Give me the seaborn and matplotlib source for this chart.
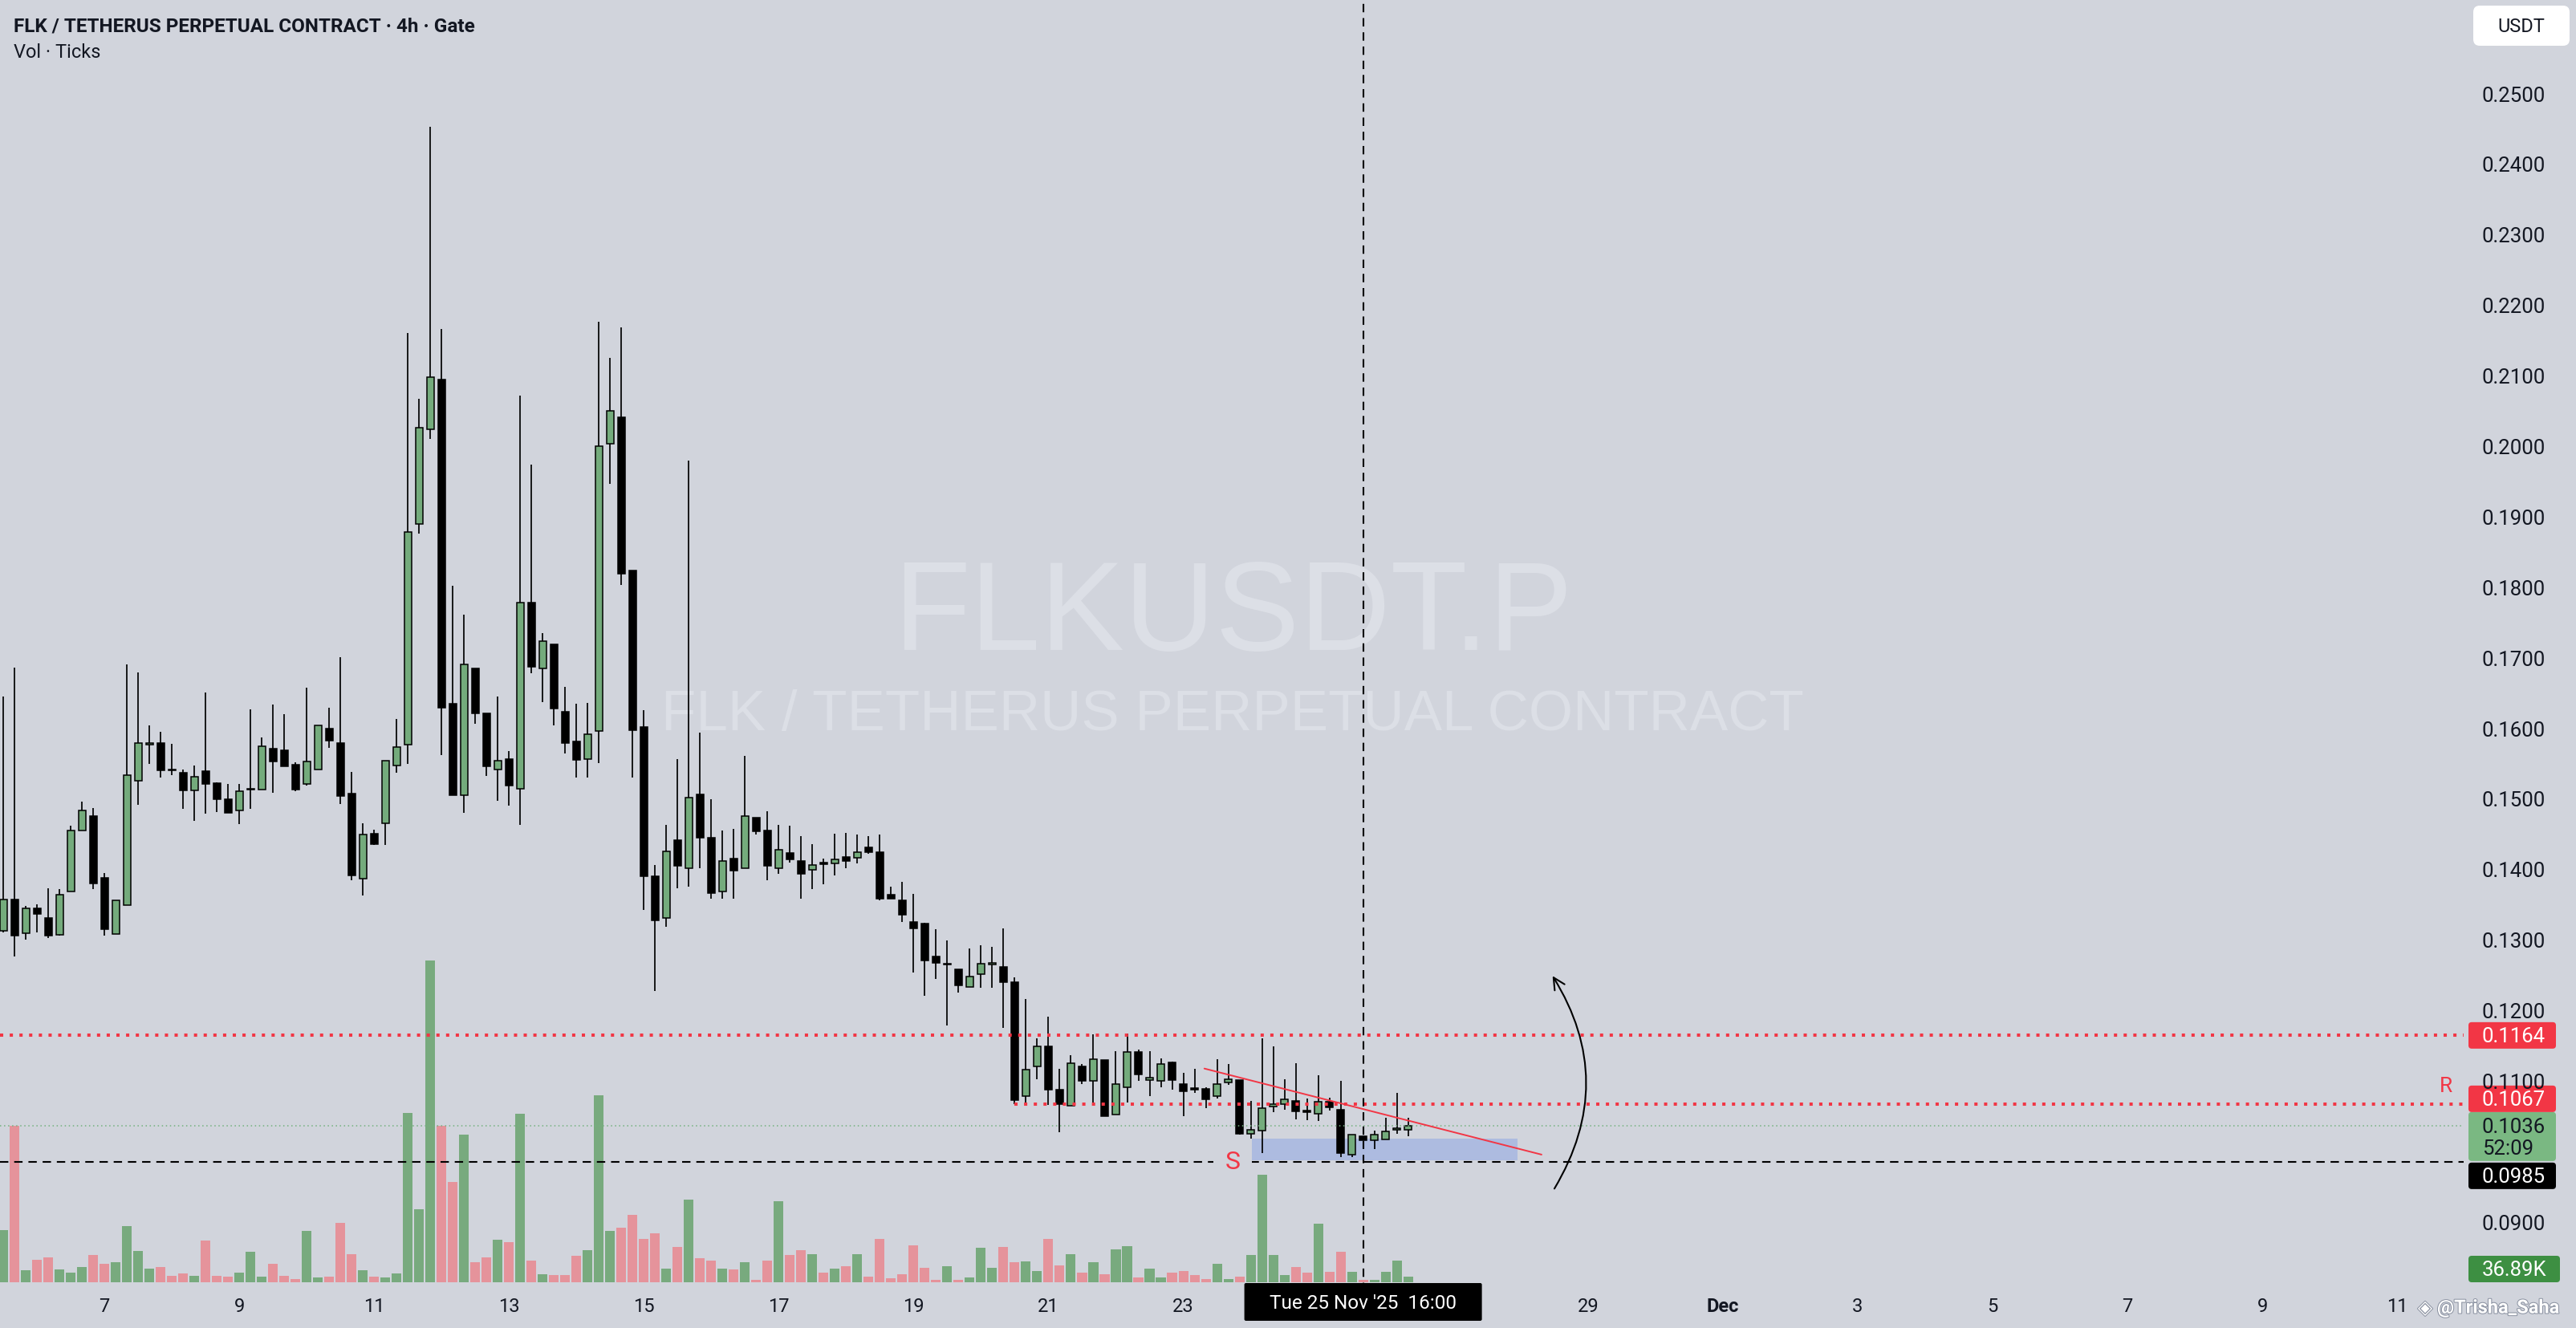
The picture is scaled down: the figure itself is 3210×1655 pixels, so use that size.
import numpy as np
import pandas as pd
import matplotlib
matplotlib.use("Agg")
import matplotlib.pyplot as plt
import matplotlib.dates as mdates
import matplotlib.patheffects as pe
from matplotlib.patches import Rectangle, FancyArrowPatch, FancyBboxPatch
from matplotlib.transforms import IdentityTransform
import seaborn as sns

# --- 4h candles, FLK/USDT perpetual (Gate) ---
first_bar = "2025-11-05 12:00"

opens = [0.1312, 0.1357, 0.1309, 0.1344, 0.1330, 0.1307, 0.1368, 0.1455, 0.1475, 0.1387,
         0.1308, 0.1349, 0.1525, 0.1576, 0.1579, 0.1541, 0.1536, 0.1511, 0.1539, 0.1522,
         0.1499, 0.1483, 0.1512, 0.1513, 0.1570, 0.1568, 0.1548, 0.1520, 0.1541, 0.1599,
         0.1579, 0.1507, 0.1386, 0.1450, 0.1465, 0.1547, 0.1576, 0.1889, 0.2023, 0.2094,
         0.1634, 0.1504, 0.1684, 0.1621, 0.1541, 0.1556, 0.1514, 0.1778, 0.1684, 0.1718,
         0.1623, 0.1581, 0.1556, 0.1595, 0.2003, 0.2040, 0.1823, 0.1601, 0.1390, 0.1331,
         0.1441, 0.1401, 0.1506, 0.1444, 0.1368, 0.1415, 0.1401, 0.1473, 0.1455, 0.1401,
         0.1423, 0.1411, 0.1399, 0.1409, 0.1408, 0.1417, 0.1416, 0.1431, 0.1424, 0.1363,
         0.1356, 0.1325, 0.1322, 0.1276, 0.1264, 0.1258, 0.1233, 0.1251, 0.1265, 0.1261,
         0.1240, 0.1078, 0.1120, 0.1148, 0.1087, 0.1064, 0.1120, 0.1100, 0.1129, 0.1052,
         0.1090, 0.1140, 0.1101, 0.1099, 0.1126, 0.1095, 0.1089, 0.1088, 0.1078, 0.1097,
         0.1101, 0.1025, 0.1029, 0.1063, 0.1066, 0.1071, 0.1057, 0.1053, 0.1070, 0.1059,
         0.0995, 0.1021, 0.1015, 0.1016, 0.1030, 0.1030]
highs = [0.1644, 0.1685, 0.1348, 0.1350, 0.1373, 0.1371, 0.1461, 0.1496, 0.1486, 0.1394,
         0.1356, 0.1690, 0.1679, 0.1603, 0.1594, 0.1577, 0.1541, 0.1547, 0.1650, 0.1523,
         0.1520, 0.1521, 0.1626, 0.1587, 0.1633, 0.1620, 0.1551, 0.1657, 0.1603, 0.1629,
         0.1700, 0.1538, 0.1465, 0.1456, 0.1554, 0.1613, 0.2160, 0.2067, 0.2452, 0.2165,
         0.1801, 0.1761, 0.1684, 0.1621, 0.1645, 0.1567, 0.2071, 0.1973, 0.1734, 0.1718,
         0.1658, 0.1634, 0.1635, 0.2176, 0.2125, 0.2168, 0.1823, 0.1625, 0.1406, 0.1462,
         0.1556, 0.1979, 0.1593, 0.1499, 0.1455, 0.1457, 0.1560, 0.1473, 0.1482, 0.1463,
         0.1461, 0.1446, 0.1435, 0.1415, 0.1450, 0.1451, 0.1449, 0.1447, 0.1449, 0.1375,
         0.1382, 0.1365, 0.1324, 0.1315, 0.1299, 0.1258, 0.1287, 0.1292, 0.1289, 0.1316,
         0.1246, 0.1216, 0.1160, 0.1191, 0.1117, 0.1136, 0.1124, 0.1165, 0.1129, 0.1142,
         0.1167, 0.1144, 0.1142, 0.1131, 0.1127, 0.1111, 0.1117, 0.1090, 0.1130, 0.1124,
         0.1101, 0.1071, 0.1160, 0.1148, 0.1102, 0.1125, 0.1075, 0.1108, 0.1076, 0.1100,
         0.1023, 0.1021, 0.1029, 0.1047, 0.1082, 0.1047]
lows = [0.1310, 0.1276, 0.1300, 0.1310, 0.1302, 0.1305, 0.1368, 0.1455, 0.1371, 0.1305,
        0.1308, 0.1349, 0.1491, 0.1549, 0.1530, 0.1533, 0.1485, 0.1468, 0.1478, 0.1481,
        0.1480, 0.1464, 0.1485, 0.1513, 0.1508, 0.1545, 0.1510, 0.1518, 0.1541, 0.1572,
        0.1492, 0.1384, 0.1362, 0.1434, 0.1434, 0.1536, 0.1549, 0.1875, 0.2010, 0.1561,
        0.1504, 0.1479, 0.1606, 0.1532, 0.1497, 0.1490, 0.1462, 0.1678, 0.1636, 0.1604,
        0.1564, 0.1530, 0.1530, 0.1550, 0.1946, 0.1803, 0.1530, 0.1342, 0.1227, 0.1318,
        0.1373, 0.1375, 0.1401, 0.1358, 0.1358, 0.1358, 0.1401, 0.1449, 0.1384, 0.1393,
        0.1409, 0.1358, 0.1372, 0.1378, 0.1391, 0.1401, 0.1408, 0.1422, 0.1356, 0.1358,
        0.1325, 0.1253, 0.1220, 0.1244, 0.1178, 0.1225, 0.1233, 0.1232, 0.1232, 0.1175,
        0.1067, 0.1064, 0.1102, 0.1065, 0.1027, 0.1064, 0.1095, 0.1067, 0.1049, 0.1052,
        0.1069, 0.1099, 0.1078, 0.1091, 0.1087, 0.1050, 0.1083, 0.1061, 0.1074, 0.1094,
        0.1023, 0.0962, 0.0997, 0.1055, 0.1059, 0.1045, 0.1044, 0.1043, 0.1057, 0.0991,
        0.0992, 0.1015, 0.1003, 0.1016, 0.1025, 0.1021]
closes = [0.1357, 0.1306, 0.1344, 0.1336, 0.1306, 0.1363, 0.1454, 0.1483, 0.1379, 0.1315,
          0.1356, 0.1533, 0.1579, 0.1578, 0.1540, 0.1540, 0.1511, 0.1531, 0.1521, 0.1499,
          0.1480, 0.1510, 0.1514, 0.1574, 0.1552, 0.1546, 0.1513, 0.1552, 0.1603, 0.1582,
          0.1503, 0.1391, 0.1449, 0.1435, 0.1553, 0.1573, 0.1878, 0.2026, 0.2097, 0.1628,
          0.1504, 0.1690, 0.1621, 0.1545, 0.1554, 0.1518, 0.1778, 0.1687, 0.1723, 0.1627,
          0.1578, 0.1555, 0.1591, 0.2000, 0.2049, 0.1819, 0.1597, 0.1390, 0.1327, 0.1425,
          0.1405, 0.1501, 0.1444, 0.1366, 0.1411, 0.1398, 0.1475, 0.1453, 0.1404, 0.1427,
          0.1413, 0.1393, 0.1406, 0.1407, 0.1413, 0.1411, 0.1424, 0.1424, 0.1358, 0.1358,
          0.1335, 0.1316, 0.1270, 0.1267, 0.1266, 0.1235, 0.1248, 0.1266, 0.1267, 0.1239,
          0.1072, 0.1116, 0.1148, 0.1087, 0.1067, 0.1125, 0.1100, 0.1130, 0.1049, 0.1095,
          0.1140, 0.1109, 0.1104, 0.1124, 0.1101, 0.1085, 0.1087, 0.1073, 0.1095, 0.1102,
          0.1024, 0.1030, 0.1061, 0.1066, 0.1073, 0.1056, 0.1055, 0.1070, 0.1062, 0.0997,
          0.1023, 0.1015, 0.1023, 0.1028, 0.1032, 0.1036]
# volume in thousands
volumes_k = [344, 1028, 80, 148, 164, 85, 64, 101, 180, 122,
             133, 371, 207, 90, 101, 42, 58, 42, 276, 42,
             37, 64, 201, 37, 122, 42, 21, 339, 32, 37,
             392, 186, 80, 37, 32, 58, 1113, 477, 2115, 1028,
             657, 970, 133, 164, 281, 265, 1108, 143, 53, 48,
             48, 175, 212, 1230, 339, 360, 445, 286, 323, 90,
             233, 541, 159, 143, 90, 85, 133, 16, 143, 530,
             180, 212, 186, 64, 90, 106, 186, 37, 286, 27,
             53, 244, 95, 16, 106, 16, 32, 228, 95, 233,
             133, 138, 74, 286, 111, 186, 64, 133, 53, 217,
             239, 32, 90, 32, 64, 74, 48, 21, 122, 21,
             37, 180, 705, 180, 48, 101, 64, 387, 69, 201,
             69, 16, 16, 69, 143, 36.89]

price_ticks = [0.25, 0.24, 0.23, 0.22, 0.21, 0.20, 0.19, 0.18, 0.17, 0.16,
               0.15, 0.14, 0.13, 0.12, 0.11, 0.09]
day_ticks = ["2025-11-07", "2025-11-09", "2025-11-11", "2025-11-13", "2025-11-15",
             "2025-11-17", "2025-11-19", "2025-11-21", "2025-11-23", "2025-11-29",
             "2025-12-01", "2025-12-03", "2025-12-05", "2025-12-07", "2025-12-09",
             "2025-12-11"]
day_labels = ["7", "9", "11", "13", "15", "17", "19", "21", "23", "29",
              "Dec", "3", "5", "7", "9", "11"]

# drawings
level_top = 0.1164
level_r = 0.1067
level_r_from = "2025-11-20 12:00"
last_price = 0.1036
countdown = "52:09"
support = 0.0985
cursor_time = "2025-11-25 16:00"
cursor_label = "Tue 25 Nov '25  16:00"
zone_t = ["2025-11-24 00:30", "2025-11-27 23:00"]
zone_p = [0.0987, 0.1018]
trend_t = ["2025-11-23 07:30", "2025-11-28 07:30"]
trend_p = [0.1117, 0.0995]
arrow_t = ["2025-11-28 11:40", "2025-11-28 11:00"]
arrow_p = [0.0944, 0.1251]
s_pos = ("2025-11-23 17:30", 0.0985)
r_pos = ("2025-12-11 17:30", 0.1093)

# --- style ---
W, H = 3210, 1656
BG = "#d1d4dc"
UP = "#74ab7c"
VOL_UP = "#78aa7e"
VOL_DOWN = "#e5939b"
RED = "#f23645"
TXT = "#131722"
DOTS = (0, (1, 2))
DASH = (0, (5, 3.5))

sns.set_theme(style="white", rc={"figure.facecolor": BG, "axes.facecolor": BG})
plt.rcParams["font.family"] = ["Roboto", "DejaVu Sans"]

times = pd.date_range(first_bar, periods=len(opens), freq="4h")
x = mdates.date2num(times)
o, h, l, c = map(np.array, (opens, highs, lows, closes))
up = c >= o

def tnum(s):
    return mdates.date2num(pd.Timestamp(s))

fig = plt.figure(figsize=(W / 100, H / 100), dpi=100)
PLOT_R, PLOT_B = 3070, 1610
pos = [0, 1 - PLOT_B / H, PLOT_R / W, PLOT_B / H]
ax_v = fig.add_axes(pos)
ax = fig.add_axes(pos)
ax_v.set_zorder(0)
ax.set_zorder(1)
ax.patch.set_alpha(0)

# x scale: 84 px per day, first bar at 4 px
px_day = 84.03
xlim = (x[0] - 4 / px_day, x[0] + (PLOT_R - 4) / px_day)
# y scale: 0.25 at 117 px from top, 8790 px per 1.0
px_price = 8790
ylim = (0.25 - (PLOT_B - 117) / px_price, 0.25 + 117 / px_price)

# volume (seaborn)
vol_df = pd.DataFrame({"t": x, "vol": volumes_k, "side": np.where(up, "up", "down")})
sns.barplot(data=vol_df, x="t", y="vol", hue="side",
            palette={"up": VOL_UP, "down": VOL_DOWN}, native_scale=True,
            dodge=False, width=0.86, errorbar=None, legend=False,
            saturation=1, linewidth=0, ax=ax_v)
vol_px = 36.89 / 7.0
ax_v.set_xlim(xlim)
ax_v.set_ylim(-(PLOT_B - 1599) * vol_px, 1599 * vol_px)
ax_v.axis("off")

# candles
body_w = 9 / px_day
ax.vlines(x, l, h, color="black", lw=1.25, zorder=4)
ax.bar(x, np.maximum(np.abs(c - o), 2e-5), bottom=np.minimum(o, c), width=body_w,
       color=np.where(up, UP, "black"), edgecolor="black", linewidth=1.1, zorder=5)

# zone, levels, trendline
ax.add_patch(Rectangle((tnum(zone_t[0]), zone_p[0]), tnum(zone_t[1]) - tnum(zone_t[0]),
                       zone_p[1] - zone_p[0], color="#adbbe0", lw=0, zorder=3))
ax.axhline(level_top, color=RED, lw=2.9, linestyle=DOTS, zorder=6)
ax.hlines(level_r, tnum(level_r_from), xlim[1], color=RED, lw=2.9, linestyle=DOTS, zorder=6)
ax.axhline(last_price, color="#74b27f", lw=1.1, linestyle=(0, (1, 2.3)), zorder=6)
ax.axhline(support, color="black", lw=1.5, linestyle=DASH, zorder=6)
ax.axvline(tnum(cursor_time), color="black", lw=1.5, linestyle=DASH, zorder=6)
ax.plot([tnum(t) for t in trend_t], trend_p, color=RED, lw=1.4, zorder=7)

ax.add_patch(FancyArrowPatch((tnum(arrow_t[0]), arrow_p[0]), (tnum(arrow_t[1]), arrow_p[1]),
                             connectionstyle="arc3,rad=0.31", arrowstyle="->",
                             mutation_scale=26, lw=1.5, color="black", zorder=7))
ax.text(tnum(s_pos[0]), s_pos[1], "S", color=RED, fontsize=23, ha="center", va="center", zorder=8,
        bbox=dict(boxstyle="square,pad=0.45", fc=BG, ec="none"))
ax.text(tnum(r_pos[0]), r_pos[1], "R", color=RED, fontsize=19, ha="center", va="center", zorder=7)

ax.set_xlim(xlim)
ax.set_ylim(ylim)
for sp in ax.spines.values():
    sp.set_visible(False)

# axes labels
ax.set_xticks(mdates.date2num(pd.to_datetime(day_ticks)))
ax.set_xticklabels(day_labels)
ax.tick_params(axis="x", length=0, pad=5, labelsize=17, labelcolor=TXT)
for lab in ax.get_xticklabels():
    if lab.get_text() == "Dec":
        lab.set_fontweight("bold")
ax.yaxis.tick_right()
ax.set_yticks(price_ticks)
ax.set_yticklabels([f"{p:.4f}" for p in price_ticks])
ax.tick_params(axis="y", length=0, pad=16.5, labelsize=18.5, labelcolor=TXT)
ax.set_xlabel("")
ax.set_ylabel("")

# watermark
wm = dict(color="#dcdfe6", ha="center", va="baseline", family=["Liberation Sans"],
          transform=fig.transFigure, zorder=0)
ax_v.text(1536 / W, 1 - 810 / H, "FLKUSDT.P", fontsize=113, **wm)
ax_v.text(1536 / W, 1 - 910 / H, "FLK / TETHERUS PERPETUAL CONTRACT", fontsize=51, **wm)

# header
fig.text(17 / W, 1 - 33 / H, "FLK / TETHERUS PERPETUAL CONTRACT · 4h · Gate",
         fontsize=17.5, fontweight="bold", color=TXT, ha="left", va="center")
fig.text(17 / W, 1 - 66 / H, "Vol · Ticks", fontsize=17, color=TXT, ha="left", va="center")


def py(p):
    return H - ax.transData.transform((xlim[0], p))[1]


def box(x0, x1, cy, hh, color, r=4):
    fig.add_artist(FancyBboxPatch((x0, H - cy - hh / 2), x1 - x0, hh,
                                  boxstyle=f"round,pad=0,rounding_size={r}",
                                  transform=IdentityTransform(), color=color, lw=0))


def tag(text, cy, color, tcol, x1=3185):
    box(3076, x1, cy, 33, color)
    fig.text(3093 / W, 1 - (cy + 1) / H, text, fontsize=18.5, color=tcol, ha="left", va="center")


box(3082, 3202, 33, 50, "white", r=8)
fig.text(3142 / W, 1 - 34 / H, "USDT", fontsize=17, color=TXT, ha="center", va="center")

tag(f"{level_top:.4f}", py(level_top), RED, "white")
g_top = py(last_price) - 17
box(3076, 3185, g_top + 30.5, 61, "#7ab882")
fig.text(3093 / W, 1 - (py(last_price) + 1) / H, f"{last_price:.4f}", fontsize=18.5,
         color=TXT, ha="left", va="center")
fig.text(3093 / W, 1 - (py(last_price) + 28) / H, countdown, fontsize=18.5,
         color=TXT, ha="left", va="center")
tag(f"{level_r:.4f}", min(py(level_r), g_top - 16.5), RED, "white")
tag(f"{support:.4f}", max(py(support), g_top + 63 + 16.5), "black", "white")
vol_top = H - ax_v.transData.transform((xlim[0], volumes_k[-1]))[1]
tag(f"{volumes_k[-1]:.2f}K", min(vol_top, 1599 - 16.5), "#3d8f42", "white", x1=3190)

# cursor time label
cx = ax.transData.transform((tnum(cursor_time), ylim[0]))[0]
box(cx - 148, cx + 148, 1623.5, 47, "black", r=2)
fig.text(cx / W, 1 - 1625 / H, cursor_label, fontsize=17.5, color="white", ha="center", va="center")

# author mark
fig.text(3022 / W, 1 - 1631 / H, "◈", fontsize=17, color="white", ha="center", va="center",
         family=["DejaVu Sans"], path_effects=[pe.withStroke(linewidth=1.5, foreground="#8d94a3")])
fig.text(3037 / W, 1 - 1631 / H, "@Trisha_Saha", fontsize=17, fontweight="bold", color="white",
         ha="left", va="center", path_effects=[pe.withStroke(linewidth=1.5, foreground="#8d94a3")])

fig.savefig("out.png", dpi=100, facecolor=BG)
